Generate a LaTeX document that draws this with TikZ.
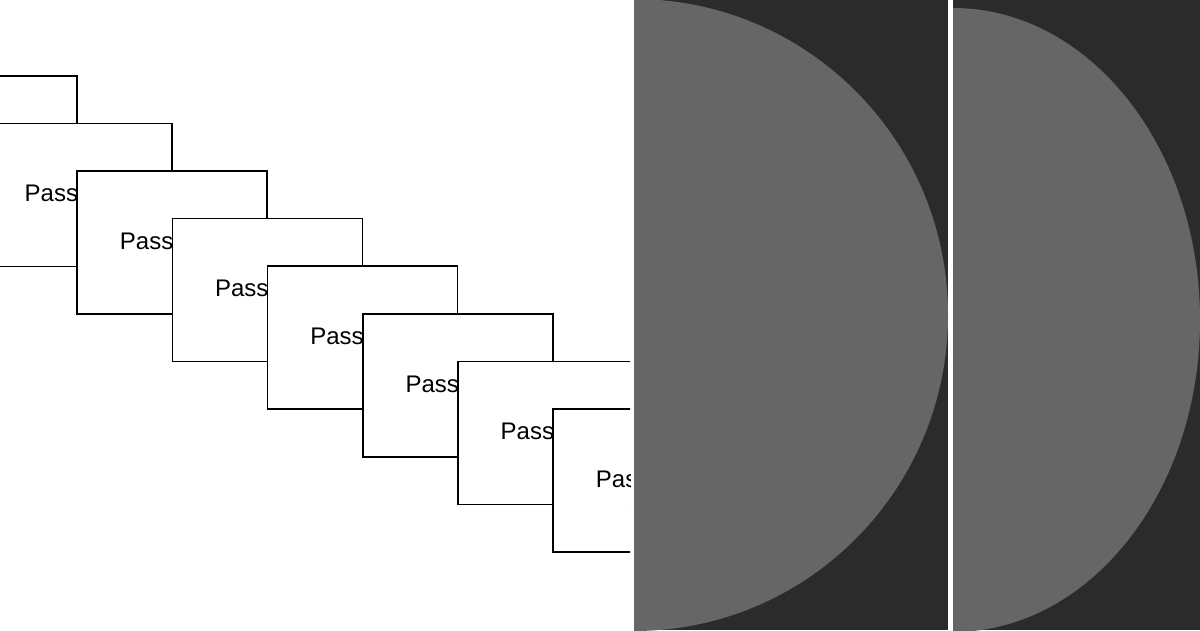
\documentclass[tikz,border=0pt]{standalone}
\usepackage{fontspec}
\setsansfont{Liberation Sans}
\tikzset{
  passbox/.style={draw, line width=1.6pt, fill=white, minimum width=190pt, minimum height=143pt,
                  anchor=north west, inner sep=0pt},
  passtext/.style={anchor=base west, font=\sffamily\fontsize{24}{24}\selectfont}
}
\definecolor{panelgray}{HTML}{2B2B2B}
\definecolor{discgray}{HTML}{666666}
\begin{document}
\begin{tikzpicture}[x=1pt,y=-1pt]
\useasboundingbox (0,0) rectangle (1200,630);

% Cartes en escalier
\begin{scope}
\clip (0,0) rectangle (630,630);
\foreach \i in {0,...,7}
  {
  \node [passbox] (card\i) at (-114+95.2*\i, 75+47.6*\i) {};
  \node [passtext] (label\i) at ([shift={(40pt,-79pt)}]card\i.north west) {Pass};
  }
\end{scope}

% Panneaux sombres
\fill [panelgray] (634,0) rectangle (948,630);
\fill [panelgray] (953,0) rectangle (1200,630);

% Demi-disques
\begin{scope}
\clip (634,0) rectangle (948,630);
\fill [discgray] (634,315) ellipse [x radius=314, y radius=316];
\end{scope}
\begin{scope}
\clip (953,0) rectangle (1200,630);
\fill [discgray] (953,320) ellipse [x radius=247, y radius=312];
\end{scope}

\end{tikzpicture}
\end{document}
